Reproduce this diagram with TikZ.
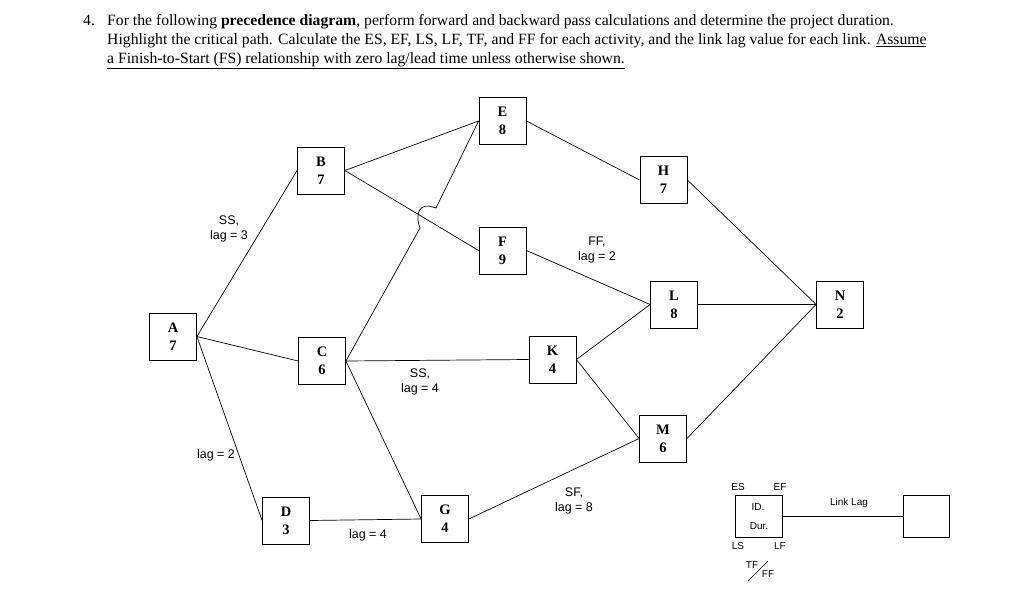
\documentclass[tikz,border=0pt]{standalone}
\usepackage{fontspec}
\setmainfont{Liberation Serif}
\newfontfamily\lsans{Liberation Sans}
\begin{document}
\begin{tikzpicture}[x=1pt,y=-1pt,
  act/.style={draw, line width=0.8pt, minimum width=47pt, minimum height=47pt, inner sep=0pt, align=center, font=\fontsize{14.5}{18}\selectfont\bfseries},
  lbl/.style={align=center, inner sep=0pt, font=\lsans\fontsize{12.5}{15}\selectfont},
  small/.style={inner sep=0pt, font=\lsans\fontsize{10}{11}\selectfont},
  link/.style={line width=0.7pt},
  ttl/.style={anchor=base west, inner sep=0pt, font=\fontsize{15.7}{18}\selectfont}]
\useasboundingbox (0,0) rectangle (1024,599);
% title
\node[ttl] (t0) at (83,25.5) {4.};
\node[ttl] (t1) at (107,25.5) {For the following \textbf{precedence diagram}, perform forward and backward pass calculations and determine the project duration.};
\node[ttl] (t2) at (107,45) {Highlight the critical path. Calculate the ES, EF, LS, LF, TF, and FF for each activity, and the link lag value for each link. \underline{Assume}};
\node[ttl] (t3) at (107,63.5) {\underline{a Finish-to-Start (FS) relationship with zero lag/lead time unless otherwise shown.}};
% activities
\node[act] (A) at (173,336.5) {A\\7};
\node[act] (B) at (321,170.5) {B\\7};
\node[act] (C) at (322,361) {C\\6};
\node[act] (D) at (286,520.5) {D\\3};
\node[act] (E) at (502.5,121) {E\\8};
\node[act] (F) at (502.5,250.5) {F\\9};
\node[act] (G) at (445,519) {G\\4};
\node[act] (H) at (663.5,180) {H\\7};
\node[act] (K) at (552.5,359.5) {K\\4};
\node[act] (L) at (674,304.5) {L\\8};
\node[act] (M) at (663,438.5) {M\\6};
\node[act] (N) at (840,304.5) {N\\2};
% links
\coordinate (hopa) at (420,228);
\coordinate (hopb) at (436,208);
\draw[link] (A.east) -- (B.west);
\draw[link] (A.east) -- (C.west);
\draw[link] (A.east) -- (D.west);
\draw[link] (B.east) -- (E.west);
\draw[link] (B.east) -- (F.west);
\draw[link] (C.east) -- (hopa) .. controls (416,218) and (417,205) .. (429,206) -- (hopb) -- (E.west);
\draw[link] (C.east) -- (K.west);
\draw[link] (C.east) -- (G.west);
\draw[link] (D.east) -- (G.west);
\draw[link] (E.east) -- (H.west);
\draw[link] (F.east) -- (L.west);
\draw[link] (K.east) -- (L.west);
\draw[link] (K.east) -- (M.west);
\draw[link] (G.east) -- (M.west);
\draw[link] (H.east) -- (N.west);
\draw[link] (L.east) -- (N.west);
\draw[link] (M.east) -- (N.west);
% link labels
\node[lbl] (lAB) at (229,229) {SS,\\lag = 3};
\node[lbl] (lFL) at (597,250) {FF,\\lag = 2};
\node[lbl] (lCK) at (420,382) {SS,\\lag = 4};
\node[lbl] (lAD) at (216,455) {lag = 2};
\node[lbl] (lDG) at (368,535) {lag = 4};
\node[lbl] (lGM) at (574,501) {SF,\\lag = 8};
% legend
\node[draw, line width=0.8pt, minimum width=47pt, minimum height=42pt, inner sep=0pt] (lg) at (758.5,516) {};
\node[draw, line width=0.8pt, minimum width=46pt, minimum height=42pt, inner sep=0pt] (lg2) at (926,516) {};
\draw[link] (lg.east) -- (lg2.west);
\node[small] (lgid) at (758,507) {ID.};
\node[small] (lgdur) at (759,526) {Dur.};
\node[small] (lges) at (738,487) {ES};
\node[small] (lgef) at (780,487) {EF};
\node[small] (lgls) at (738,546) {LS};
\node[small] (lglf) at (780,546) {LF};
\node[small] (lgll) at (849,503) {Link Lag};
\node[small] (lgtf) at (752,565) {TF};
\node[small] (lgff) at (768,574) {FF};
\coordinate (sl1) at (748,581);
\coordinate (sl2) at (768,561);
\draw[line width=0.6pt] (sl1) -- (sl2);
\end{tikzpicture}
\end{document}
